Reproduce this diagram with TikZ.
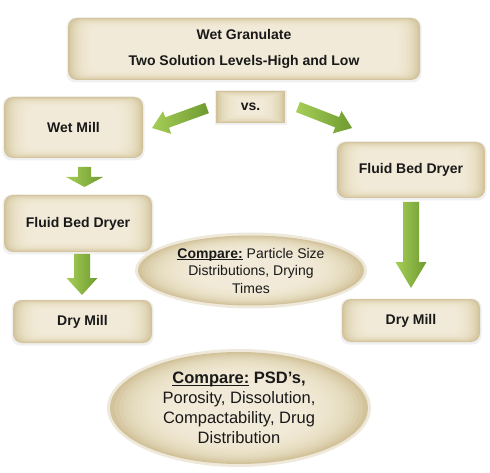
\documentclass[tikz,border=0pt]{standalone}
\usepackage{fontspec}
\setmainfont{Liberation Sans}
\usetikzlibrary{calc}
\definecolor{tanc}{HTML}{D3C39B}
\definecolor{creamc}{HTML}{F7F0DF}
\definecolor{rimc}{HTML}{EEE9DB}
\definecolor{greenl}{HTML}{A6CE58}
\definecolor{greend}{HTML}{6E9A2F}
\newcommand{\myul}[1]{\setbox0\hbox{#1}\rlap{\rule[-1.8pt]{\wd0}{0.9pt}}\box0\relax}
\tikzset{
 boxtext/.style={font=\fontsize{14}{26}\selectfont\bfseries, align=center, inner sep=0pt, text=black!90},
 elltextA/.style={font=\fontsize{14}{17.5}\selectfont, align=center, inner sep=0pt, text=black!90},
 elltextB/.style={font=\fontsize{16.5}{20}\selectfont, align=center, inner sep=0pt, text=black!90},
 arrowshade/.style={left color=greenl, right color=greend},
}
\newcommand{\beigebox}[7]{%
  \fill[black, opacity=0.06, rounded corners=#6] ({#2-#4/2-1.5},{#3-#5/2-0.5}) rectangle ({#2+#4/2+1.5},{#3+#5/2+2.5});
  \fill[tanc, rounded corners=#6] ({#2-#4/2},{#3-#5/2}) rectangle ({#2+#4/2},{#3+#5/2});
  \foreach \i in {1,...,16}{
    \fill[creamc, opacity=0.16, rounded corners=#6] ({#2-#4/2+1.6*\i},{#3-#5/2+0.6*\i}) rectangle ({#2+#4/2-1.6*\i},{#3+#5/2-0.6*\i});
  }
  \node[boxtext, minimum width=#4pt, minimum height=#5pt] (#1) at (#2,#3) {#7};
}
\newcommand{\beigeell}[7]{%
  \fill[rimc] (#2,#3) ellipse [x radius={#4+3}, y radius={#5+3}];
  \fill[tanc] (#2,#3) ellipse [x radius=#4, y radius=#5];
  \foreach \i in {1,...,16}{
    \fill[creamc, opacity=0.16] (#2,#3) ellipse [x radius={#4*(1-0.035*\i)}, y radius={#5*(1-0.03*\i)}];
  }
  \node[#6] (#1) at (#2,#3) {#7};
}
\newcommand{\greenarrow}[6]{%
  \begin{scope}[shift={(#1)}, rotate=#2]
    \shade[arrowshade] (0,-#4) -- ({#3-#6},-#4) -- ({#3-#6},-#5) -- (#3,0) -- ({#3-#6},#5) -- ({#3-#6},#4) -- (0,#4) -- cycle;
  \end{scope}}
\begin{document}
\begin{tikzpicture}[x=1pt,y=-1pt]
\fill[white] (0,0) rectangle (490,473);
\useasboundingbox (0,0) rectangle (490,473);

\beigebox{top}{244}{49}{352}{62}{9pt}{Wet Granulate\\Two Solution Levels-High and Low}
\beigebox{vs}{250.5}{107}{69}{32}{0pt}{vs.}
\beigebox{wetmill}{73.5}{127.5}{139}{61}{9pt}{Wet Mill}
\beigebox{fbdA}{78}{223.5}{148}{57}{9pt}{Fluid Bed Dryer}
\beigebox{dmA}{82.5}{321.5}{139}{43}{9pt}{Dry Mill}
\beigebox{fbdB}{411}{170}{148}{56}{9pt}{Fluid Bed Dryer}
\beigebox{dmB}{411}{320.5}{138}{43}{9pt}{Dry Mill}

\coordinate (tl) at (207,108);
\coordinate (tr) at (298,107);
\coordinate (t1) at (84.5,167);
\coordinate (t2) at (82,254);
\coordinate (t3) at (411,202);
\greenarrow{tl}{200}{58.5}{5.5}{12}{16}
\greenarrow{tr}{-21.25}{58}{5.5}{12}{16}
\greenarrow{t1}{-90}{20}{6.5}{18.5}{10}
\greenarrow{t2}{-90}{41}{8}{15.5}{17}
\greenarrow{t3}{-90}{86}{8}{15.5}{26}

\beigeell{cmpA}{251}{270.5}{113}{35}{elltextA}{\textbf{\myul{Compare:}} Particle Size\\Distributions, Drying\\Times}
\beigeell{cmpB}{239}{408}{129}{56}{elltextB}{\textbf{\myul{Compare:} PSD’s,}\\Porosity, Dissolution,\\Compactability, Drug\\Distribution}
\end{tikzpicture}
\end{document}
